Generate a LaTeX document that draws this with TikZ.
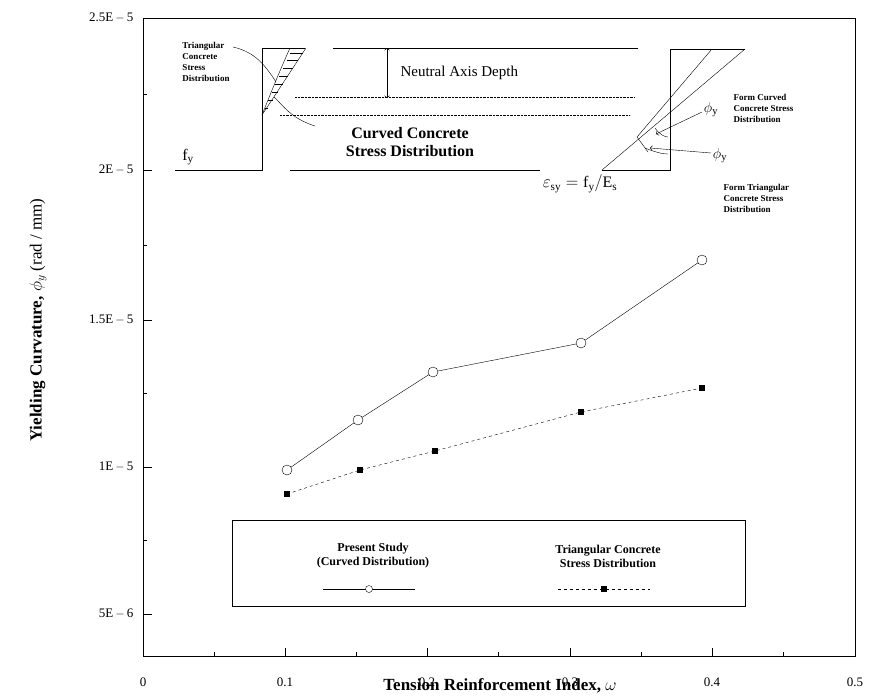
\documentclass[tikz,border=0pt]{standalone}
\usepackage{fontspec}
\setmainfont{Liberation Serif}
\usetikzlibrary{arrows.meta}
\begin{document}
\begin{tikzpicture}[x=1pt,y=-1pt,
  lbl/.style={font=\bfseries\fontsize{11}{13}\selectfont},
  ax/.style={font=\fontsize{13}{15}\selectfont},
  sm/.style={font=\bfseries\fontsize{9}{11}\selectfont,align=left}]
\useasboundingbox (0,0) rectangle (880,697);
\draw[thick] (143,18) rectangle (855,656);
% ticks
\foreach \x/\t in {143/0,285/0.1,427/0.2,570/0.3,712/0.4,855/0.5}{
  \draw (\x,656) -- (\x,648);
  \node[ax] at (\x,682) {\t};}
\foreach \x in {214,356,498,641,783}{\draw (\x,656) -- (\x,652);}
\foreach \y/\t in {18/{2.5E\,$-$\,5},170/{2E\,$-$\,5},320/{1.5E\,$-$\,5},467/{1E\,$-$\,5},614/{5E\,$-$\,6}}{
  \draw (143,\y) -- (152,\y);
  \node[ax,anchor=east] at (137,\y) {\t};}
\foreach \y in {94,245,393,540}{\draw (143,\y) -- (147,\y);}
\node[font=\bfseries\fontsize{17}{19}\selectfont] at (500,686) {Tension Reinforcement Index, $\omega$};
\node[font=\bfseries\fontsize{17}{19}\selectfont,rotate=90] at (38,320) {Yielding Curvature, $\phi_y$ \textnormal{(rad / mm)}};
% data
\draw (287,470) coordinate(a1) -- (358,420) coordinate(a2) -- (433,372) coordinate(a3) -- (581,343) coordinate(a4) -- (702,260) coordinate(a5);
\foreach \p in {a1,a2,a3,a4,a5}{\draw[fill=white] (\p) circle (5);}
\draw[dashed] (287,494) coordinate(b1) -- (360,470) coordinate(b2) -- (435,451) coordinate(b3) -- (581,412) coordinate(b4) -- (702,388) coordinate(b5);
\foreach \p in {b1,b2,b3,b4,b5}{\fill (\p) ++(-3,-3) rectangle ++(6,6);}
% legend
\draw (232,520) rectangle (745,606);
\node[font=\bfseries\fontsize{12}{14}\selectfont,align=center] (l1) at (373,556) {Present Study\\(Curved Distribution)};
\node[font=\bfseries\fontsize{12}{14}\selectfont,align=center] (l2) at (608,556) {Triangular Concrete\\Stress Distribution};
\draw (323,589) -- (415,589); \draw[fill=white] (369,589) circle (3.5);
\draw[dashed] (558,589) -- (650,589); \fill (601,586) rectangle (607,592);
% top-left inset
\draw (175,170) -- (262,170) -- (262,48) -- (305,48);
\node[font=\fontsize{16}{18}\selectfont] at (188,157) {f$_{\mathrm y}$};
\draw (262,115) -- (306,48);
\draw (262,115) .. controls (270,95) and (280,70) .. (290,48);
\foreach \y/\xa/\xb in {53/290/303,60/287/298,68/283/293,76/279/288,84/275/283,92/272/278,100/268/273,108/265/268}{\draw (\xa,\y) -- (\xb,\y);}
\node[sm] at (206,62) {Triangular\\Concrete\\Stress\\Distribution};
\draw (233,47) .. controls (255,52) and (265,65) .. (276,82);
\draw (274,97) .. controls (283,105) and (290,118) .. (315,126);
\node[font=\bfseries\fontsize{16}{18}\selectfont,align=center] at (410,142) {Curved Concrete\\Stress Distribution};
\draw (290,170) -- (540,170);
\draw (333,48) -- (638,48);
\draw[<->] (387,48) -- (387,98);
\node[font=\fontsize{15}{17}\selectfont,anchor=west] at (397,73) {Neutral Axis Depth};
\draw[densely dotted] (295,97) -- (635,97);
\draw[densely dotted] (280,115) -- (630,115);
% top-right inset
\draw (602,170) -- (670,170) -- (670,49) -- (745,49);
\draw (602,170) -- (745,49);
\draw (637,137) -- (712,49);
\draw (637,137) -- (648,152);
\node[font=\fontsize{15}{17}\selectfont] at (711,110) {$\phi_{\mathrm y}$};
\draw[->] (702,112) -- (656,134);
\draw (655,128) .. controls (660,135) and (665,137) .. (668,137);
\node[sm,anchor=west] at (730,108) {Form Curved\\Concrete Stress\\Distribution};
\node[font=\fontsize{15}{17}\selectfont] at (720,156) {$\phi_{\mathrm y}$};
\draw[->] (711,153) -- (650,148);
\draw (645,148) .. controls (655,152) and (662,154) .. (668,154);
\node[sm,anchor=west] at (720,198) {Form Triangular\\Concrete Stress\\Distribution};
\node[font=\fontsize{16}{18}\selectfont] at (580,184) {$\varepsilon_{\mathrm{sy}}=\mathrm{f}_{\mathrm y}/\mathrm{E}_{\mathrm s}$};
\end{tikzpicture}
\end{document}
